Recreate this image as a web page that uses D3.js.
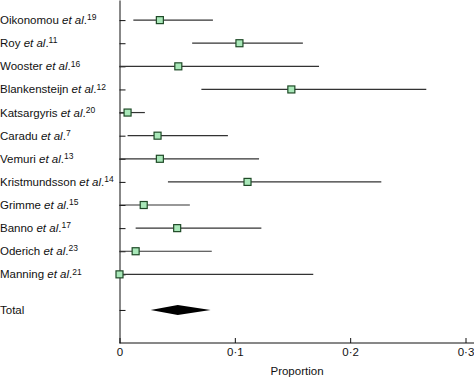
<!DOCTYPE html>
<html>
<head>
<meta charset="utf-8">
<script src="https://cdn.jsdelivr.net/npm/d3@7"></script>
<style>
  body { margin: 0; background: #fff; }
  svg { display: block; font-family: "Liberation Sans", Arial, sans-serif; }
</style>
</head>
<body>
<div id="chart-area"></div>
<script>
// study names, reference numbers and estimates
var studies = ["Oikonomou", "Roy", "Wooster", "Blankensteijn", "Katsargyris", "Caradu",
    "Vemuri", "Kristmundsson", "Grimme", "Banno", "Oderich", "Manning"];
var refs = ["19", "11", "16", "12", "20", "7", "13", "14", "15", "17", "23", "21"];
var estimate = [0.035, 0.104, 0.051, 0.149, 0.007, 0.033, 0.035, 0.111, 0.021, 0.050, 0.014, 0.000];
var lower = [0.012, 0.063, 0.0, 0.071, 0.0, 0.007, 0.0, 0.042, 0.0, 0.014, 0.0, 0.0];
var upper = [0.081, 0.159, 0.173, 0.266, 0.022, 0.094, 0.121, 0.227, 0.061, 0.123, 0.080, 0.168];
var total = { est: 0.0505, lo: 0.027, hi: 0.079 };
var xTicks = [0, 0.1, 0.2, 0.3];

var width = 474, height = 377;
var axisX = 119.5, axisY = 343;

var svg = d3.select("#chart-area")
    .append("svg")
    .attr("width", width)
    .attr("height", height);

// x scale
var x = d3.scaleLinear()
    .domain([0, 0.3])
    .range([axisX, axisX + 346]);

// rows: index 0..11 are studies, total sits 1.5 rows below the last one
var totalIndex = 12.54;
var y = d3.scaleLinear()
    .domain([-0.87, 13.97])
    .range([0, axisY]);

var rowIndex = studies.map(function (d, i) { return i; }).concat([totalIndex]);

// y axis (ticks point inward)
var yAxis = d3.axisLeft(y)
    .tickValues(rowIndex)
    .tickSize(-6)
    .tickSizeOuter(0)
    .tickFormat("");
svg.append("g")
    .attr("class", "y axis")
    .attr("transform", "translate(" + axisX + ",0)")
    .call(yAxis)
    .call(function (g) {
        g.selectAll("line, path").attr("stroke", "#111").attr("stroke-width", 1);
    });

// x axis
var xAxis = d3.axisBottom(x)
    .tickValues(xTicks)
    .tickSize(-5)
    .tickSizeOuter(0)
    .tickPadding(5)
    .tickFormat(function (d) { return d === 0 ? "0" : d3.format(".1f")(d).replace(".", "\u00b7"); });
var xg = svg.append("g")
    .attr("class", "x axis")
    .attr("transform", "translate(0," + axisY + ")")
    .call(xAxis);
xg.select(".domain").attr("d", "M" + axisX + ",0H" + width).attr("stroke", "#111");
xg.selectAll(".tick line").attr("stroke", "#111");
xg.selectAll(".tick text")
    .attr("font-size", "11.5px")
    .attr("fill", "#111")
    .attr("font-family", "Liberation Sans, Arial, sans-serif");

svg.append("text")
    .attr("x", 297)
    .attr("y", 375)
    .attr("text-anchor", "middle")
    .attr("font-size", "11.5px")
    .attr("fill", "#111")
    .text("Proportion");

// labels
var labels = svg.append("g").attr("class", "labels");
studies.forEach(function (name, i) {
    var t = labels.append("text")
        .attr("x", 0)
        .attr("y", y(i))
        .attr("dy", "0.35em")
        .attr("font-size", "11.5px")
        .attr("fill", "#111");
    t.append("tspan").text(name + " ");
    t.append("tspan").attr("font-style", "italic").text("et al");
    t.append("tspan").text(".");
    t.append("tspan").attr("font-size", "8.5px").attr("dy", "-0.45em").text(refs[i]);
});
labels.append("text")
    .attr("x", 0)
    .attr("y", y(totalIndex))
    .attr("dy", "0.35em")
    .attr("font-size", "11.5px")
    .attr("fill", "#111")
    .text("Total");

// confidence intervals
svg.selectAll(".ci")
    .data(studies)
    .enter()
    .append("line")
    .attr("class", "ci")
    .attr("x1", function (d, i) { return x(lower[i]); })
    .attr("x2", function (d, i) { return x(upper[i]); })
    .attr("y1", function (d, i) { return y(i); })
    .attr("y2", function (d, i) { return y(i); })
    .attr("stroke", "#333")
    .attr("stroke-width", 1.2);

// point estimates
var s = 7;
svg.selectAll(".pt")
    .data(studies)
    .enter()
    .append("rect")
    .attr("class", "pt")
    .attr("x", function (d, i) { return x(estimate[i]) - s / 2; })
    .attr("y", function (d, i) { return y(i) - s / 2; })
    .attr("width", s)
    .attr("height", s)
    .attr("fill", "#a9e8b9")
    .attr("stroke", "#1f4a27")
    .attr("stroke-width", 1.2);

// pooled diamond
var ty = y(totalIndex);
svg.append("path")
    .attr("d", "M" + x(total.lo) + "," + ty +
        "L" + x(total.est) + "," + (ty - 5) +
        "L" + x(total.hi) + "," + ty +
        "L" + x(total.est) + "," + (ty + 5) + "Z")
    .attr("fill", "#000");
</script>
</body>
</html>
